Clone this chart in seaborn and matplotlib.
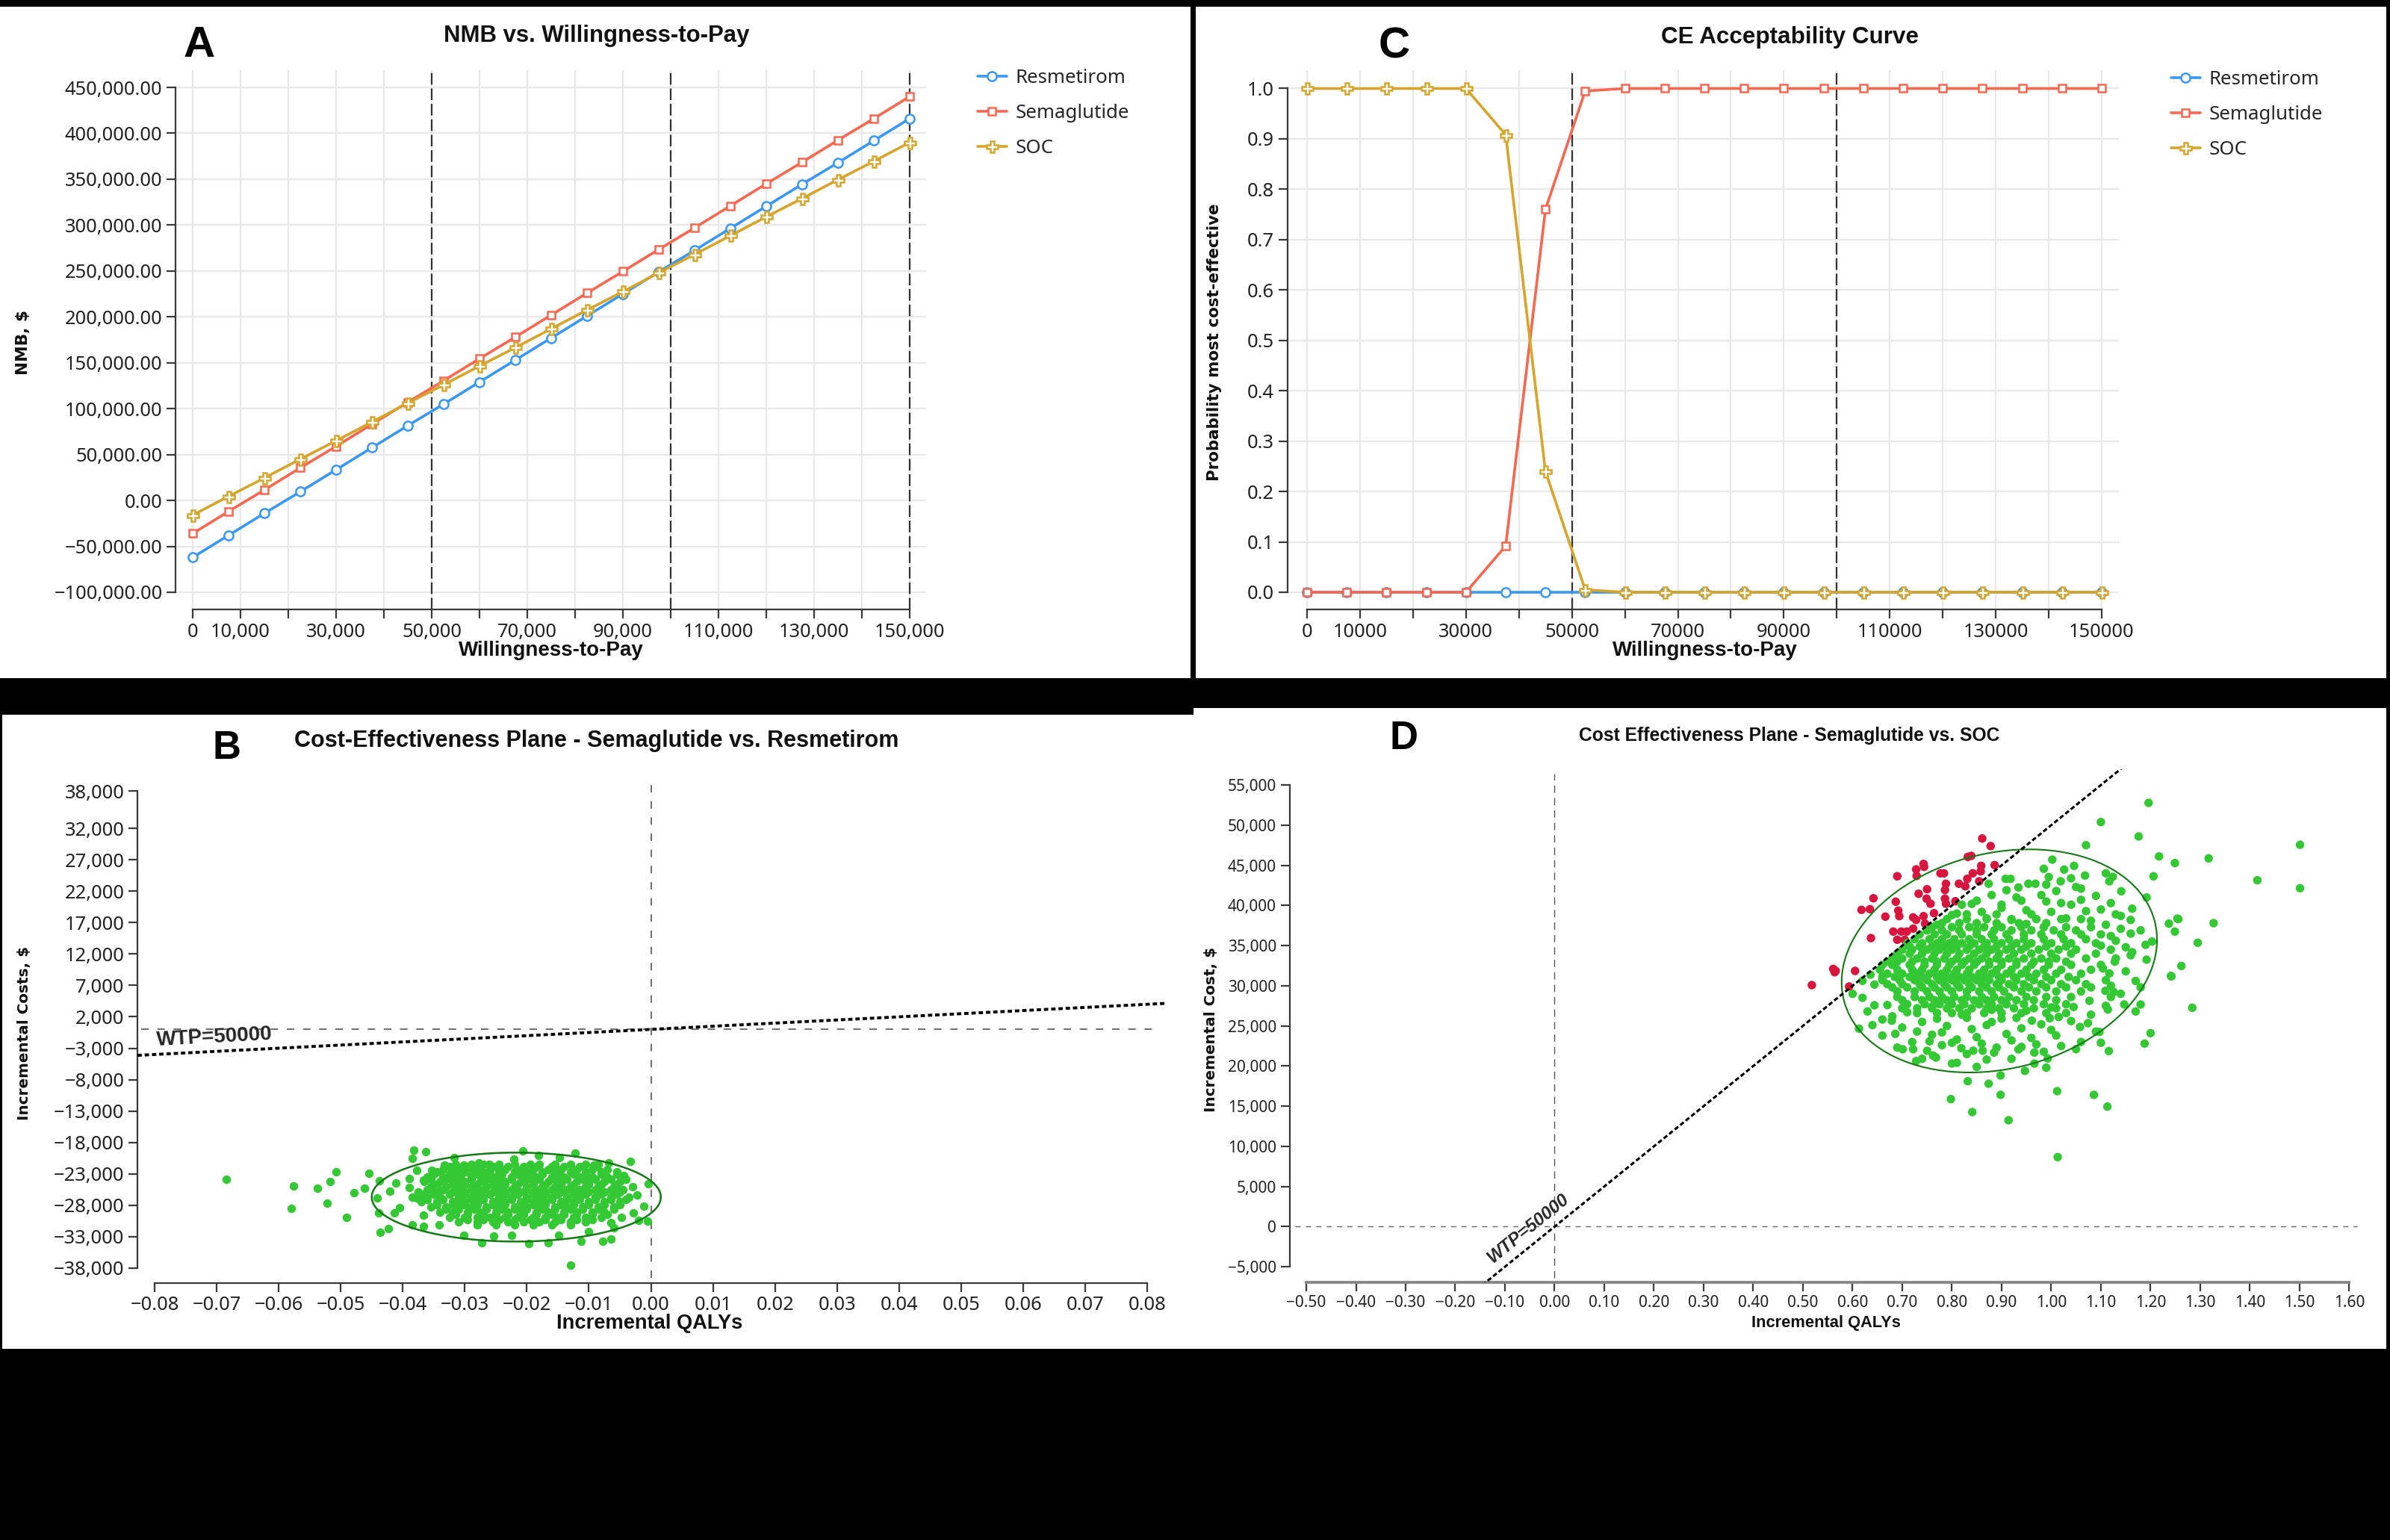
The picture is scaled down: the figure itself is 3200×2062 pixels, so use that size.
import numpy as np
import pandas as pd
import matplotlib
matplotlib.use("Agg")
import matplotlib.pyplot as plt
import seaborn as sns
from matplotlib.patches import Rectangle

# ------------------------------------------------------------------------------ #
# Data
# ------------------------------------------------------------------------------ #
strategies = ["Resmetirom", "Semaglutide", "SOC"]
wtp_grid = [0, 7500, 15000, 22500, 30000, 37500, 45000, 52500, 60000, 67500, 75000,
            82500, 90000, 97500, 105000, 112500, 120000, 127500, 135000, 142500, 150000]

nmb_resmetirom = [-62000, -38000, -14000, 9500, 33500, 57500, 81500, 105000, 129000, 153000, 177000,
                  201000, 225000, 249000, 272500, 296500, 320500, 344500, 368000, 392000, 416000]
nmb_semaglutide = [-36000, -12000, 11500, 35500, 59000, 83000, 107000, 130500, 154500, 178000, 202000,
                   226000, 249500, 273500, 297000, 321000, 345000, 368500, 392500, 416000, 440000]
nmb_soc = [-16000, 4500, 24500, 45000, 65000, 85500, 106000, 126000, 146500, 166500, 187000,
           207500, 227500, 248000, 268000, 288500, 309000, 329000, 349500, 369500, 390000]

ceac_resmetirom = [0.0, 0.0, 0.0, 0.0, 0.0, 0.0, 0.0, 0.0, 0.0, 0.0, 0.0,
                   0.0, 0.0, 0.0, 0.0, 0.0, 0.0, 0.0, 0.0, 0.0, 0.0]
ceac_semaglutide = [0.0, 0.0, 0.0, 0.0, 0.0, 0.092, 0.760, 0.995, 1.0, 1.0, 1.0,
                    1.0, 1.0, 1.0, 1.0, 1.0, 1.0, 1.0, 1.0, 1.0, 1.0]
ceac_soc = [1.0, 1.0, 1.0, 1.0, 1.0, 0.908, 0.240, 0.005, 0.0, 0.0, 0.0,
            0.0, 0.0, 0.0, 0.0, 0.0, 0.0, 0.0, 0.0, 0.0, 0.0]

wtp_threshold = 50000
wtp_marks_a = [50000, 100000, 150000]
wtp_marks_c = [50000, 100000]

# Panel B: Semaglutide vs Resmetirom PSA cloud (sparse points + dense rows)
b_out_qaly = [-0.0684, -0.0576, -0.0580, -0.0537, -0.0522, -0.0517, -0.0507, -0.0491, -0.0479, -0.0462,
              -0.0454, -0.0438, -0.0437, -0.0423, -0.0382, -0.0363, -0.0385, -0.0130, -0.0033, -0.0122,
              -0.0207, -0.0004, -0.0006, -0.0022, -0.0012, -0.0078, -0.0064, -0.0197, -0.0165, -0.0273,
              -0.0112, -0.0317, -0.0301, -0.0441, -0.0439, -0.0414, -0.0366, -0.0405, -0.0389, -0.0377,
              -0.0389, -0.0366, -0.0421, -0.0411, -0.0377, -0.0353, -0.0333, -0.0385, -0.0366, -0.0341,
              -0.0301, -0.0253, -0.0225, -0.0149, -0.0100, -0.0060, -0.0048, -0.0028, -0.0044, -0.0068,
              -0.0092, -0.0148, -0.0181, -0.0221, -0.0261, -0.0277, -0.0020, -0.0064]
b_out_cost = [-23870, -25000, -28470, -25330, -27670, -24200, -22650, -29900, -26030, -25320,
              -22940, -24130, -32380, -31790, -19290, -19490, -20560, -37530, -20990, -19680,
              -19370, -24640, -30600, -26430, -28210, -33770, -33370, -34170, -33970, -33970,
              -33770, -20480, -21670, -26830, -29200, -29200, -29600, -28410, -25240, -26830,
              -23730, -24050, -25830, -24440, -22460, -22460, -21670, -31110, -31390, -31190,
              -32780, -32980, -32780, -32780, -32180, -31590, -30000, -29200, -23250, -21270,
              -21670, -20480, -20080, -20680, -21460, -21270, -30400, -30790]
b_core_cost = [-21500, -22300, -23100, -23900, -24700, -25500, -26300, -27100, -27900, -28700,
               -29500, -30300, -31100,
               -21900, -22700, -23500, -24300, -25100, -25900, -26700, -27500, -28300, -29100,
               -29900, -30700]
b_core_qaly = [
    [-0.0315, -0.029, -0.027, -0.0245, -0.022, -0.0195, -0.018, -0.0155, -0.013, -0.0105, -0.0085],
    [-0.0335, -0.031, -0.0285, -0.026, -0.0235, -0.021, -0.019, -0.0165, -0.0145, -0.012, -0.0095, -0.007],
    [-0.035, -0.0325, -0.0305, -0.028, -0.026, -0.024, -0.0215, -0.0195, -0.0175, -0.015, -0.0125, -0.0105,
     -0.008, -0.0055],
    [-0.0355, -0.033, -0.031, -0.029, -0.0265, -0.0245, -0.0225, -0.020, -0.018, -0.0155, -0.0135, -0.011,
     -0.009, -0.0065, -0.004],
    [-0.0345, -0.032, -0.030, -0.028, -0.0255, -0.0235, -0.0215, -0.019, -0.017, -0.0145, -0.0125, -0.010,
     -0.008, -0.0055],
    [-0.036, -0.0335, -0.031, -0.029, -0.027, -0.0245, -0.0225, -0.020, -0.018, -0.016, -0.0135, -0.0115,
     -0.009, -0.0065, -0.0045],
    [-0.037, -0.035, -0.0325, -0.030, -0.028, -0.026, -0.0235, -0.0215, -0.019, -0.017, -0.015, -0.0125,
     -0.0105, -0.008, -0.0055],
    [-0.036, -0.0335, -0.031, -0.029, -0.027, -0.0245, -0.0225, -0.020, -0.018, -0.016, -0.0135, -0.0115,
     -0.009, -0.0065, -0.004],
    [-0.0345, -0.032, -0.030, -0.028, -0.0255, -0.0235, -0.021, -0.019, -0.017, -0.0145, -0.0125, -0.010,
     -0.0075, -0.005],
    [-0.033, -0.031, -0.0285, -0.0265, -0.024, -0.022, -0.020, -0.0175, -0.0155, -0.013, -0.011, -0.0085, -0.006],
    [-0.0315, -0.0295, -0.027, -0.025, -0.023, -0.0205, -0.0185, -0.016, -0.014, -0.012, -0.0095, -0.007],
    [-0.0295, -0.027, -0.0245, -0.022, -0.0195, -0.017, -0.0145, -0.012, -0.0095],
    [-0.028, -0.025, -0.022, -0.019, -0.016, -0.013],
    [-0.0325, -0.030, -0.028, -0.0255, -0.023, -0.0205, -0.0185, -0.016, -0.014, -0.0115, -0.009],
    [-0.0345, -0.032, -0.0295, -0.027, -0.0245, -0.022, -0.020, -0.0175, -0.0155, -0.013, -0.0105, -0.008,
     -0.0055],
    [-0.036, -0.0335, -0.0315, -0.029, -0.027, -0.025, -0.0225, -0.0205, -0.0185, -0.016, -0.014, -0.0115,
     -0.0095, -0.007],
    [-0.0365, -0.034, -0.032, -0.030, -0.0275, -0.0255, -0.0235, -0.021, -0.019, -0.0165, -0.0145, -0.012,
     -0.010, -0.0075, -0.005],
    [-0.0355, -0.033, -0.031, -0.029, -0.0265, -0.0245, -0.022, -0.020, -0.0175, -0.0155, -0.013, -0.0105,
     -0.0085, -0.006, -0.003],
    [-0.0375, -0.0345, -0.032, -0.030, -0.028, -0.0255, -0.0235, -0.021, -0.019, -0.017, -0.0145, -0.0125,
     -0.010, -0.0075, -0.005],
    [-0.0385, -0.036, -0.034, -0.031, -0.029, -0.027, -0.0245, -0.0225, -0.020, -0.018, -0.016, -0.0135,
     -0.0115, -0.009, -0.0065, -0.0035],
    [-0.037, -0.0345, -0.032, -0.030, -0.028, -0.0255, -0.0235, -0.021, -0.019, -0.017, -0.0145, -0.0125,
     -0.010, -0.0075, -0.005],
    [-0.0355, -0.033, -0.031, -0.029, -0.0265, -0.0245, -0.022, -0.020, -0.018, -0.0155, -0.0135, -0.011,
     -0.0085, -0.006],
    [-0.034, -0.032, -0.0295, -0.0275, -0.025, -0.023, -0.021, -0.0185, -0.0165, -0.014, -0.012, -0.0095,
     -0.0075],
    [-0.0325, -0.030, -0.028, -0.026, -0.0235, -0.0215, -0.019, -0.017, -0.015, -0.0125, -0.0105, -0.008],
    [-0.031, -0.028, -0.0255, -0.023, -0.0205, -0.018, -0.0155, -0.013, -0.0105],
]
b_ell_center = (-0.0217, -26725)
b_ell_half = (0.0233, 7085)

# Panel D: Semaglutide vs SOC PSA cloud
d_out_qaly = [
    # above the WTP line
    0.861, 0.878, 0.832, 0.839, 0.743, 0.728, 0.729, 0.744, 0.690, 0.777, 0.784, 0.859, 0.858, 0.886,
    0.842, 0.831, 0.814, 0.827, 0.855, 0.788, 0.786, 0.750, 0.733, 0.642, 0.618, 0.635, 0.687, 0.749,
    0.757, 0.786, 0.788, 0.807, 0.666, 0.692, 0.694, 0.722, 0.728, 0.743, 0.764, 0.746, 0.682, 0.698,
    0.709, 0.722, 0.690, 0.705, 0.637, 0.561, 0.566, 0.605, 0.518, 0.593, 0.564,
    # scattered points below the line
    1.196, 1.100, 1.176, 1.070, 1.217, 1.249, 1.206, 1.002, 0.985, 1.026, 1.046, 1.068, 1.110, 1.124,
    0.995, 1.040, 1.117, 0.908, 0.918, 0.954, 0.968, 1.019, 0.934, 0.874, 1.141, 1.192, 1.163, 1.237,
    1.254, 1.249, 1.203, 1.160, 1.163, 1.192, 1.262, 1.128, 1.104, 1.117, 1.241,
    1.501, 1.501, 1.415, 1.317, 1.327, 1.295, 1.256,
    1.242, 1.284, 1.200, 1.188, 1.116, 1.113, 1.086, 1.012, 1.013, 0.914, 0.898, 0.874, 0.832, 0.798,
    0.841, 0.898, 0.947, 0.966, 0.993, 1.180, 1.147, 1.114, 1.126, 1.109, 1.097, 1.074, 1.058, 1.045,
    1.077, 1.015, 0.997, 0.985, 0.966, 0.961, 0.934, 0.940, 0.885, 0.862, 0.843, 0.819, 0.800, 0.768,
    0.762, 0.728, 0.722, 0.701, 0.755, 0.686, 0.679, 0.644, 0.613, 0.644, 0.620, 0.636,
    0.81, 0.84, 0.88, 0.86, 0.90, 0.93, 0.95, 0.99, 1.01, 1.04, 1.07, 1.09, 1.12, 1.14, 1.05, 0.89, 0.77,
    0.68, 0.70, 0.74, 0.76, 0.79, 0.81, 0.84, 0.86, 0.88, 0.91, 0.93, 0.96, 1.00, 1.03, 1.06, 0.83, 0.78,
    0.72, 0.66, 0.87, 1.02, 0.60, 0.62, 0.63, 1.12, 1.15, 1.17, 1.14, 1.11, 1.18, 1.16, 1.10, 1.12,
]
d_out_cost = [
    48340, 47400, 46050, 46180, 45180, 44500, 43690, 44810, 43640, 44010, 44010, 44940, 44250, 45030,
    44010, 43320, 42710, 42390, 43010, 42710, 41930, 42020, 41460, 40900, 39450, 39540, 40470, 40850,
    40220, 40850, 40220, 40530, 38610, 39360, 38670, 38520, 38200, 38670, 39040, 37740, 36750, 36750,
    36750, 37120, 35730, 35730, 35940, 32100, 31850, 31850, 30080, 29900, 31690,
    52780, 50390, 48600, 47510, 46110, 45280, 43640, 45710, 44570, 44470, 44940, 43730, 44010, 43570,
    43540, 43390, 43010, 43320, 43320, 42710, 42710, 43010, 42240, 42710, 41770, 41000, 39600, 37740,
    38360, 36750, 35510, 36500, 34180, 33250, 32470, 33000, 32160, 31540, 31230,
    47560, 42150, 43140, 45870, 37800, 35360, 38300,
    31170, 27260, 24100, 22800, 21870, 14950, 16410, 16870, 8660, 13250, 16410, 17800, 18110, 15880,
    14270, 18830, 19390, 20310, 20940, 27670, 27670, 27040, 29220, 29370, 24250, 25340, 24870, 27360,
    28130, 26110, 25960, 21780, 21680, 25650, 22080, 22390, 21680, 21910, 21910, 22220, 20320, 21060,
    21310, 20620, 22090, 22090, 23080, 24010, 25650, 27570, 24660, 30150, 30620, 31390,
    39000, 40200, 41300, 39200, 40100, 41000, 39400, 40500, 41800, 40100, 39300, 41200, 40300, 38700,
    42300, 38900, 37600,
    26200, 24800, 25500, 23900, 25000, 23300, 24600, 22800, 25500, 24000, 26000, 23500, 24500, 26600,
    23000, 26000, 22600, 23000, 25800, 20800, 22500, 29000, 28500, 26800, 36200, 34800, 30600, 29000,
    27500, 36900, 38200, 35000, 30000,
]
# extra points filling the inside of the ellipse around the dense core
d_fill_qaly = [0.66, 0.69, 0.71, 0.73, 0.75, 0.77, 0.78, 0.80, 0.82, 0.83, 0.85, 0.87, 0.88, 0.89, 0.90,
               0.92, 0.94, 0.95, 0.97, 0.98, 1.00, 1.01, 1.04, 1.05, 1.08, 1.09, 1.10, 0.74, 0.81, 0.85,
               0.92, 0.99, 0.70, 0.76, 0.64, 0.67,
               0.87, 0.90, 0.92, 0.94, 0.96, 0.98, 1.00, 1.02, 1.03, 1.06, 1.08, 1.10, 1.11, 1.13, 1.06,
               0.99, 0.91, 0.95, 0.83, 0.85, 0.80, 0.82,
               1.13, 1.15, 1.16, 1.18, 1.12, 1.14, 1.19, 1.17]
d_fill_cost = [23800, 22300, 26700, 24300, 21900, 25900, 24200, 22900, 26400, 21500, 23600, 25100, 27000,
               22300, 25900, 23200, 24700, 26900, 22700, 25200, 27300, 23800, 25600, 22100, 26400, 24300,
               22900, 20900, 20400, 19900, 20900, 19800, 27200, 27400, 25100, 27600,
               38400, 39700, 38200, 40600, 38900, 41300, 39200, 40300, 38400, 40700, 38100, 39500, 37600,
               38900, 42100, 42600, 41900, 37700, 38900, 40600, 38800, 40100,
               35600, 31800, 33800, 29800, 28600, 37100, 35100, 26800]
d_core_cost = [38300, 37300, 36400, 35300, 34500, 33400, 32600, 31500, 30700, 29800, 28600, 27700, 26600,
               37800, 36900, 35800, 34900, 34000, 33000, 32000, 31100, 30200, 29300, 28200, 27200]
d_core_qaly = [
    [0.79, 0.83, 0.87, 0.92, 0.97, 1.02, 1.06],
    [0.76, 0.80, 0.835, 0.865, 0.90, 0.94, 0.985, 1.03, 1.08],
    [0.735, 0.765, 0.79, 0.82, 0.85, 0.88, 0.91, 0.945, 0.98, 1.02, 1.06, 1.10],
    [0.71, 0.74, 0.77, 0.795, 0.82, 0.845, 0.87, 0.90, 0.93, 0.96, 1.00, 1.04, 1.09],
    [0.70, 0.72, 0.75, 0.775, 0.80, 0.83, 0.855, 0.88, 0.91, 0.94, 0.975, 1.015, 1.05, 1.12],
    [0.68, 0.70, 0.73, 0.76, 0.785, 0.81, 0.835, 0.86, 0.89, 0.915, 0.945, 0.98, 1.01, 1.07, 1.13],
    [0.66, 0.68, 0.715, 0.745, 0.77, 0.795, 0.82, 0.845, 0.875, 0.90, 0.93, 0.96, 0.995, 1.04, 1.10],
    [0.67, 0.70, 0.73, 0.755, 0.78, 0.805, 0.83, 0.855, 0.88, 0.91, 0.94, 0.97, 1.01, 1.06],
    [0.66, 0.695, 0.725, 0.75, 0.775, 0.80, 0.825, 0.85, 0.875, 0.90, 0.93, 0.965, 1.00, 1.05, 1.11],
    [0.68, 0.71, 0.74, 0.765, 0.79, 0.815, 0.84, 0.87, 0.895, 0.925, 0.955, 0.99, 1.03, 1.08],
    [0.69, 0.725, 0.755, 0.78, 0.805, 0.83, 0.86, 0.885, 0.915, 0.95, 0.99, 1.04],
    [0.71, 0.745, 0.775, 0.80, 0.825, 0.855, 0.88, 0.91, 0.945, 0.985, 1.03],
    [0.73, 0.77, 0.80, 0.83, 0.865, 0.90, 0.94, 0.99],
    [0.78, 0.815, 0.85, 0.89, 0.935, 0.99],
    [0.75, 0.78, 0.815, 0.85, 0.885, 0.92, 0.96, 1.005, 1.05],
    [0.725, 0.755, 0.78, 0.805, 0.835, 0.86, 0.885, 0.915, 0.945, 0.985, 1.025, 1.07],
    [0.715, 0.735, 0.76, 0.785, 0.81, 0.835, 0.865, 0.89, 0.92, 0.95, 0.99, 1.03],
    [0.69, 0.715, 0.74, 0.765, 0.79, 0.815, 0.845, 0.87, 0.895, 0.925, 0.96, 1.0, 1.04, 1.09],
    [0.67, 0.69, 0.72, 0.745, 0.77, 0.80, 0.825, 0.85, 0.875, 0.90, 0.93, 0.965, 0.995, 1.03],
    [0.655, 0.69, 0.72, 0.74, 0.765, 0.79, 0.81, 0.835, 0.865, 0.89, 0.92, 0.95, 0.985, 1.02, 1.08],
    [0.66, 0.685, 0.715, 0.74, 0.77, 0.79, 0.815, 0.84, 0.865, 0.895, 0.925, 0.955, 0.99, 1.035],
    [0.67, 0.70, 0.735, 0.76, 0.785, 0.81, 0.835, 0.86, 0.89, 0.915, 0.945, 0.98, 1.02, 1.07],
    [0.69, 0.725, 0.75, 0.775, 0.80, 0.83, 0.855, 0.88, 0.905, 0.94, 0.97, 1.01, 1.06],
    [0.70, 0.74, 0.765, 0.79, 0.82, 0.845, 0.87, 0.90, 0.93, 0.965, 1.01],
    [0.73, 0.76, 0.79, 0.815, 0.84, 0.87, 0.895, 0.925, 0.965, 1.01],
]
d_ell_center = (0.8955, 33095)
d_ell_half = (0.3175, 13895)
d_ell_rho = 0.19

b_cost_ticks = [38000, 32000, 27000, 22000, 17000, 12000, 7000, 2000, -3000, -8000,
                -13000, -18000, -23000, -28000, -33000, -38000]

# ------------------------------------------------------------------------------ #
# Styling
# ------------------------------------------------------------------------------ #
sns.set_theme(style="ticks")
plt.rcParams["font.family"] = ["Noto Sans", "DejaVu Sans"]
plt.rcParams["axes.unicode_minus"] = True
BOLD = ["Liberation Sans", "DejaVu Sans"]

colors = {"Resmetirom": "#3a98f5", "Semaglutide": "#f8674f", "SOC": "#d6a52c"}
markers = {"Resmetirom": ("o", 4.4), "Semaglutide": ("s", 3.6), "SOC": ("P", 5.4)}
green = "#34c934"
red = "#d7153f"
ell_color = "#157a15"
spine_color = "#3a3a3a"

W, H = 3200, 2062


def box(l, t, r, b):
    return [l / W, 1 - b / H, (r - l) / W, (b - t) / H]


def fpos(x, y):
    return x / W, 1 - y / H


def uminus(s):
    return s.replace("-", "\u2212")


fig = plt.figure(figsize=(W / 200, H / 200), dpi=200, facecolor="black")
for l, t, r, b in [(0, 9, 1594, 908), (1601, 9, 3195, 908), (3, 957, 1598, 1806), (1598, 948, 3195, 1806)]:
    fig.patches.append(Rectangle((l / W, 1 - b / H), (r - l) / W, (b - t) / H,
                                 transform=fig.transFigure, facecolor="white", edgecolor="none", zorder=-10))


def style_axes(ax, labelsize):
    ax.set_facecolor("none")
    ax.spines[["top", "right"]].set_visible(False)
    for s in ("left", "bottom"):
        ax.spines[s].set_color(spine_color)
        ax.spines[s].set_linewidth(0.8)
    ax.tick_params(axis="both", direction="out", length=4.3, width=0.8, color=spine_color,
                   labelsize=labelsize, pad=2, labelcolor="#222222")


def line_panel(ax, series, xlim, ylim, marks, legend_xy):
    handles = []
    for name in strategies:
        mk, ms = markers[name]
        sns.lineplot(x=wtp_grid, y=series[name], ax=ax, color=colors[name], lw=1.3,
                     marker=mk, markersize=ms, markerfacecolor="white",
                     markeredgecolor=colors[name], markeredgewidth=0.9, errorbar=None, label=name)
        handles.append(ax.lines[-1])
    for m in marks:
        ax.axvline(m, color="#333333", lw=0.8, dashes=(7, 2.3), zorder=1.5)
    ax.set_xlim(*xlim)
    ax.set_ylim(*ylim)
    ax.grid(True, color="#e8e8e8", lw=0.8)
    ax.set_axisbelow(True)
    style_axes(ax, 9.2)
    ax.legend(handles=handles, labels=strategies, loc="upper left",
              bbox_to_anchor=fpos(*legend_xy), bbox_transform=fig.transFigure,
              frameon=False, borderpad=0, borderaxespad=0, fontsize=9.3,
              handlelength=1.5, handletextpad=0.45, labelspacing=0.85)
    ax.set_xlabel("")
    ax.set_ylabel("")


def ellipse(ax, center, half, rho, lw):
    t = np.linspace(0, 2 * np.pi, 241)
    ex = center[0] + half[0] * np.cos(t)
    ey = center[1] + half[1] * (rho * np.cos(t) + np.sqrt(1 - rho ** 2) * np.sin(t))
    ax.plot(ex, ey, color=ell_color, lw=lw, zorder=4)


def flatten(cost_rows, qaly_rows):
    q = [v for row in qaly_rows for v in row]
    c = [cc for cc, row in zip(cost_rows, qaly_rows) for _ in row]
    return q, c


wtp_ticks = list(range(0, 150001, 10000))

# ------------------------------------------------------------------------------ #
# A: NMB vs WTP
# ------------------------------------------------------------------------------ #
axA = fig.add_axes(box(235, 94, 1240, 816))
line_panel(axA, {"Resmetirom": nmb_resmetirom, "Semaglutide": nmb_semaglutide, "SOC": nmb_soc},
           (-3594, 153437), (-118714, 468714), wtp_marks_a, (1309, 92))
axA.set_xticks(wtp_ticks)
axA.set_xticklabels([f"{v:,}" if v == 0 or (v // 10000) % 2 == 1 else "" for v in wtp_ticks])
nmb_ticks = list(range(-100000, 450001, 50000))
axA.set_yticks(nmb_ticks)
axA.set_yticklabels([uminus(f"{v:,.2f}") for v in nmb_ticks])
axA.spines["left"].set_bounds(-100000, 450000)
axA.spines["bottom"].set_bounds(0, 150000)

# ------------------------------------------------------------------------------ #
# C: CEAC
# ------------------------------------------------------------------------------ #
axC = fig.add_axes(box(1723.5, 94, 2837, 816))
line_panel(axC, {"Resmetirom": ceac_resmetirom, "Semaglutide": ceac_semaglutide, "SOC": ceac_soc},
           (-3736, 153243), (-0.0341, 1.0363), wtp_marks_c, (2907, 94))
axC.set_xticks(wtp_ticks)
axC.set_xticklabels([f"{v}" if v == 0 or (v // 10000) % 2 == 1 else "" for v in wtp_ticks])
prob_ticks = [i / 10 for i in range(11)]
axC.set_yticks(prob_ticks)
axC.set_yticklabels([f"{v:.1f}" for v in prob_ticks])
axC.spines["left"].set_bounds(0, 1)
axC.spines["bottom"].set_bounds(0, 150000)

# ------------------------------------------------------------------------------ #
# B: CE plane Semaglutide vs Resmetirom
# ------------------------------------------------------------------------------ #
axB = fig.add_axes(box(184, 1040, 1560, 1718))
bq, bc = flatten(b_core_cost, b_core_qaly)
b_df = pd.DataFrame({"qaly": b_out_qaly + bq, "cost": b_out_cost + bc})
sns.scatterplot(data=b_df, x="qaly", y="cost", ax=axB, color=green, s=17, linewidth=0, zorder=3)
ellipse(axB, b_ell_center, b_ell_half, 0.0, 0.9)
bx = (-0.08277, 0.08289)
axB.set_xlim(*bx)
axB.set_ylim(-40429, 40262)
axB.plot(bx, [wtp_threshold * bx[0], wtp_threshold * bx[1]], color="black", lw=1.4, dashes=(1.5, 1.0), zorder=5)
axB.axvline(0, ymin=0.01, ymax=0.994, color="#555555", lw=0.6, dashes=(6, 7), zorder=2)
axB.axhline(0, xmin=0.0036, xmax=0.9935, color="#555555", lw=0.6, dashes=(6, 7), zorder=2)
axB.text(-0.0704, -1290, "WTP=50000", fontsize=10, fontweight="bold", rotation=3, family=BOLD,
         ha="center", va="center", rotation_mode="anchor", zorder=6)
style_axes(axB, 9.2)
qb_ticks = [i / 100 for i in range(-8, 9)]
axB.set_xticks(qb_ticks)
axB.set_xticklabels([uminus(f"{v:.2f}") for v in qb_ticks])
axB.set_yticks(b_cost_ticks)
axB.set_yticklabels([uminus(f"{v:,}") for v in b_cost_ticks])
axB.spines["left"].set_bounds(-38000, 38000)
axB.spines["bottom"].set_bounds(-0.08, 0.08)
axB.set_xlabel("")
axB.set_ylabel("")

# ------------------------------------------------------------------------------ #
# D: CE plane Semaglutide vs SOC
# ------------------------------------------------------------------------------ #
axD = fig.add_axes(box(1726.6, 1030, 3160, 1716.5))
dq, dc = flatten(d_core_cost, d_core_qaly)
d_df = pd.DataFrame({"qaly": d_out_qaly + d_fill_qaly + dq, "cost": d_out_cost + d_fill_cost + dc})
d_df["above"] = d_df["cost"] > wtp_threshold * d_df["qaly"]
sns.scatterplot(data=d_df, x="qaly", y="cost", hue="above", palette={True: red, False: green},
                ax=axD, s=17, linewidth=0, legend=False, zorder=3)
ellipse(axD, d_ell_center, d_ell_half, d_ell_rho, 0.75)
dx = (-0.5337, 1.622)
axD.set_xlim(*dx)
axD.set_ylim(-6893, 56967)
axD.plot(dx, [wtp_threshold * dx[0], wtp_threshold * dx[1]], color="black", lw=1.1, dashes=(2.0, 1.1), zorder=5)
axD.axvline(0, ymin=0.008, ymax=0.991, color="#555555", lw=0.5, dashes=(7, 5), zorder=2)
axD.axhline(0, xmin=0.005, xmax=0.997, color="#666666", lw=0.5, dashes=(5, 5), zorder=2)
axD.text(-0.054, -250, "WTP=50000", fontsize=8.6, fontweight="bold", fontstyle="italic", rotation=39,
         family=BOLD, ha="center", va="center", rotation_mode="anchor", zorder=6)
style_axes(axD, 7.5)
qd_ticks = [i / 100 for i in range(-50, 161, 10)]
axD.set_xticks(qd_ticks)
axD.set_xticklabels([uminus(f"{v:.2f}") for v in qd_ticks])
d_cost_ticks = list(range(-5000, 55001, 5000))
axD.set_yticks(d_cost_ticks)
axD.set_yticklabels([uminus(f"{v:,}") for v in d_cost_ticks])
axD.spines["left"].set_bounds(-5000, 55000)
axD.spines["bottom"].set_bounds(-0.5, 1.6)
axD.spines["bottom"].set_color("#888888")
axD.spines["bottom"].set_linewidth(1.4)
axD.set_xlabel("")
axD.set_ylabel("")

# ------------------------------------------------------------------------------ #
# Titles, panel letters and axis labels
# ------------------------------------------------------------------------------ #
texts = [
    ((799, 48), "NMB vs. Willingness-to-Pay", 11.2),
    ((2396, 50), "CE Acceptability Curve", 11.3),
    ((799, 992), "Cost-Effectiveness Plane - Semaglutide vs. Resmetirom", 11.0),
    ((2396, 985), "Cost Effectiveness Plane - Semaglutide vs. SOC", 8.85),
    ((738, 871), "Willingness-to-Pay", 10.0),
    ((2283, 871), "Willingness-to-Pay", 10.0),
    ((870, 1772), "Incremental QALYs", 9.8),
    ((2445, 1772), "Incremental QALYs", 7.9),
]
for (x, y), s, fs in texts:
    fig.text(*fpos(x, y), s, fontsize=fs, fontweight="bold", ha="center", va="center",
             family=BOLD, color="#111111")

for (x, y), s, fs in [((267, 61), "A", 21), ((1867, 63), "C", 21), ((303, 1002), "B", 19), ((1880, 989), "D", 19)]:
    fig.text(*fpos(x, y), s, fontsize=fs, fontweight="bold", ha="center", va="center",
             family=BOLD, color="black")

for (x, y), s, fs in [((31, 458), "NMB, $", 7.8), ((1626, 458), "Probability most cost-effective", 7.7),
                      ((33, 1383), "Incremental Costs, $", 7.2), ((1621, 1378), "Incremental Cost, $", 7.2)]:
    fig.text(*fpos(x, y), s, fontsize=fs, fontweight="bold", ha="center", va="center", rotation=90,
             family=["DejaVu Sans"], color="#111111")

fig.savefig("out.png", dpi=200, facecolor="black")
